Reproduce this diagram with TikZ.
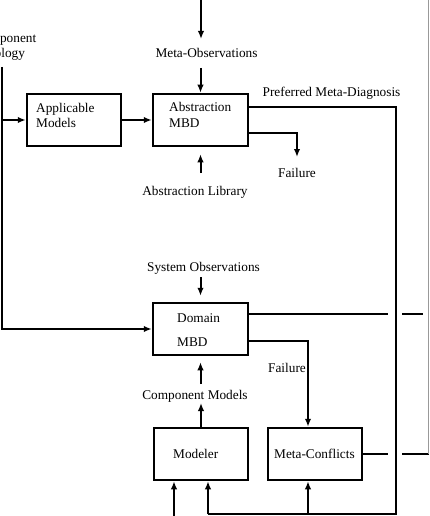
\documentclass[tikz,border=0pt]{standalone}
\usepackage{fontspec}
\setmainfont{Liberation Serif}
\usetikzlibrary{arrows.meta}
\begin{document}
\begin{tikzpicture}[x=1pt,y=-1pt,
  every node/.style={font=\fontsize{13.3}{15}\selectfont,inner sep=0pt},
  box/.style={draw,line width=2.5pt,minimum width=94pt,minimum height=52pt},
  txt/.style={anchor=base west},
  lbl/.style={anchor=base},
  ln/.style={line width=2pt},
  arr/.style={line width=2pt,-{Latex[length=8pt,width=6.5pt]}},
  edgeline/.style={line width=1.3pt,draw=black!40}
]
\useasboundingbox (0,0) rectangle (429,516);

% boxes
\node[box] (app) at (74,120) {};
\node[box,minimum width=95pt] (abs) at (200.5,120) {};
\node[box,minimum width=95pt] (dom) at (200.5,329) {};
\node[box] (mod) at (201,454) {};
\node[box] (mc) at (315,454) {};

% box texts
\node[txt] (app1) at (36,113) {Applicable};
\node[txt] (app2) at (36,128) {Models};
\node[txt] (abs1) at (169,112) {Abstraction};
\node[txt] (abs2) at (169,128) {MBD};
\node[txt] (dom1) at (177,322) {Domain};
\node[txt] (dom2) at (177,346) {MBD};
\node[txt] (mod1) at (173,458) {Modeler};
\node[txt] (mc1) at (274,458) {Meta-Conflicts};

% labels
\node[lbl] (mobs) at (206.5,58) {Meta-Observations};
\node[lbl] (pmd) at (331.5,97) {Preferred Meta-Diagnosis};
\node[lbl] (fail1) at (297,177) {Failure};
\node[lbl] (absl) at (195,195) {Abstraction Library};
\node[lbl] (sobs) at (203.5,271) {System Observations};
\node[lbl] (fail2) at (287,372) {Failure};
\node[lbl] (cmod) at (195,399) {Component Models};
\node[txt] (ctop1) at (-26,43) {Component};
\node[txt] (ctop2) at (-26,58) {Topology};

% coordinates
\coordinate (top) at (201,0);
\coordinate (tl) at (1.5,67);
\coordinate (c1) at (396,107);
\coordinate (c2) at (396,514);
\coordinate (c3) at (208,514);
\coordinate (x308) at (308,0);
\coordinate (d1) at (388,314);
\coordinate (d2) at (402,314);
\coordinate (d3) at (423,314);
\coordinate (m1) at (388,454);
\coordinate (m2) at (402,454);
\coordinate (m3) at (428.5,454);
\coordinate (m4) at (428.5,0);
\coordinate (b174) at (174,516);

% connectors
\draw[arr] (top) -- ([yshift=19pt]mobs.base -| top);
\draw[arr] ([yshift=-10pt]mobs.base -| abs.north) -- (abs.north);
\draw[arr] ([yshift=22pt]absl.base -| abs.south) -- ([yshift=-7pt]abs.south);

\draw[arr] (tl) |- (dom.west);
\draw[arr] (tl |- app.west) -- (app.west);
\draw[arr] (app.east) -- (abs.west);

\draw[ln] ([yshift=13pt]abs.east) -- (c1) -- (c2) -- (c3);
\draw[arr] ([yshift=-13pt]abs.east) -| ([yshift=20pt]fail1.base);

\draw[arr] (c3) -- (c3 |- mod.south);
\draw[arr] (x308 |- c3) -- (x308 |- mc.south);
\draw[arr] (b174) -- (b174 |- mod.south);

\draw[arr] ([yshift=-6pt]sobs.base -| dom.north) -- ([yshift=6pt]dom.north);
\draw[arr] ([yshift=15pt]cmod.base -| dom.south) -- ([yshift=-6pt]dom.south);
\draw[arr] (mod.north) -- ([yshift=-4pt]cmod.base -| mod.north);
\draw[arr] ([yshift=-12pt]dom.east) -| (x308 |- mc.north);

\draw[ln] ([yshift=15pt]dom.east) -- (d1);
\draw[ln] (d2) -- (d3);
\draw[ln] (mc.east) -- (m1);
\draw[ln] (m2) -- (m3);
\draw[edgeline] (m3) -- (m4);
\end{tikzpicture}
\end{document}
